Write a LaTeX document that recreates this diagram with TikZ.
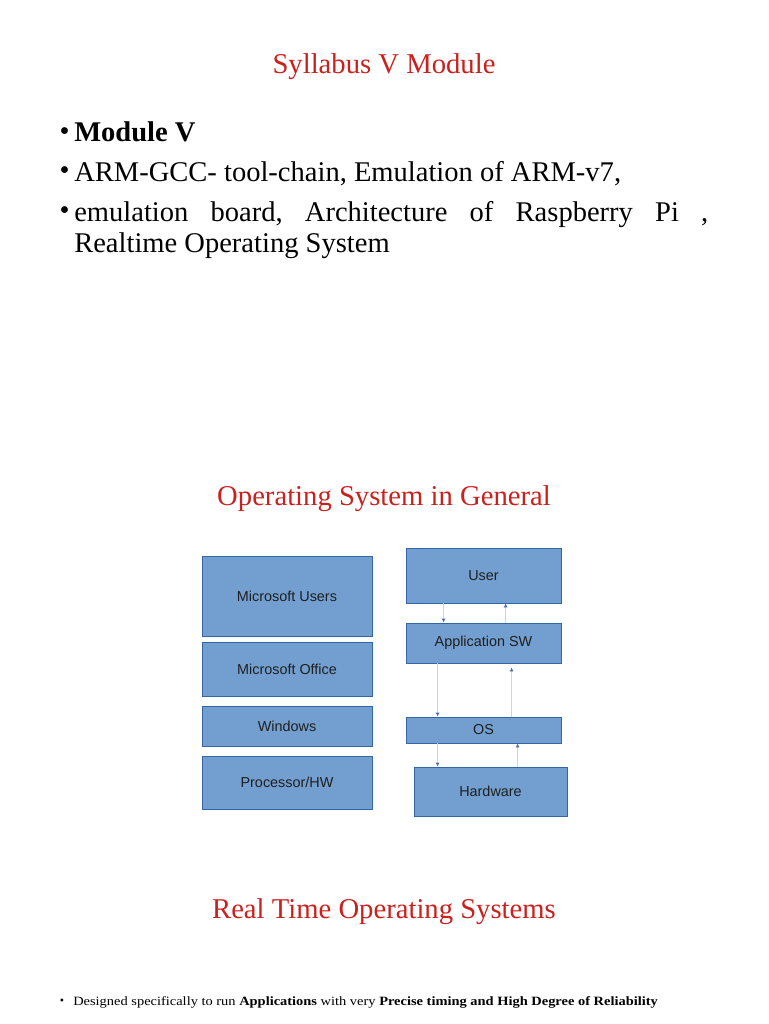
\documentclass[tikz,border=0pt]{standalone}
\usepackage{fontspec}
\setmainfont{Liberation Serif}
\newfontfamily\boxfont{Liberation Sans}
\usepackage{tikz}
\usetikzlibrary{positioning, arrows.meta}
\definecolor{titlered}{HTML}{C9211E}
\definecolor{boxfill}{HTML}{729FCF}
\definecolor{boxline}{HTML}{3465A4}
\definecolor{linkline}{HTML}{C8D6E6}
\definecolor{tipblue}{HTML}{4A72B0}
\frenchspacing
\tikzset{
  layer/.style={draw=boxline, fill=boxfill, line width=0.6pt, inner sep=0pt,
    font=\boxfont\fontsize{10.8}{13}\selectfont, text=black!88},
  title/.style={text=titlered, font=\fontsize{21.5}{25}\selectfont},
  item/.style={anchor=base west, inner sep=0pt, font=\fontsize{21.4}{25}\selectfont},
  dot/.style={anchor=base east, inner sep=0pt, font=\fontsize{21.4}{25}\selectfont},
  link/.style={draw=linkline, line width=0.6pt, -{Latex[length=3pt,width=3pt,color=tipblue]}}
}
\begin{document}
\begin{tikzpicture}[x=0.75pt, y=-0.75pt]
  \useasboundingbox (0,0) rectangle (768,1024);
  \fill[white] (0,0) rectangle (768,1024);

  % slide 1
  \node[title] (syl) at (384,67) {Syllabus V Module};
  \node[item] (it1) at (74,142) {\textbf{Module V}};
  \node[item] (it2) at (74,181) {ARM-GCC- tool-chain, Emulation of ARM-v7,};
  \node[item] (it3) at (74,221) {\makebox[475.5pt][s]{emulation board, Architecture of Raspberry Pi ,}};
  \node[item] (it4) at (74,252) {Realtime Operating System};
  \node[dot] at ([xshift=-3pt,yshift=1.2pt]it1.base west) {•};
  \node[dot] at ([xshift=-3pt,yshift=1.2pt]it2.base west) {•};
  \node[dot] at ([xshift=-3pt,yshift=1.2pt]it3.base west) {•};

  % slide 2
  \node[title] (osg) at (384,499) {Operating System in General};

  \node[layer, minimum width=127.5pt, minimum height=60pt] (musers) at (287,596) {Microsoft Users};
  \node[layer, minimum width=127.5pt, minimum height=40.5pt] (moffice) at (287,669) {Microsoft Office};
  \node[layer, minimum width=127.5pt, minimum height=30pt] (windows) at (287,726) {Windows};
  \node[layer, minimum width=127.5pt, minimum height=39.75pt] (prochw) at (287,782.5) {Processor/HW};

  \node[layer, minimum width=116.25pt, minimum height=41.25pt] (user) at (483.5,575.5) {User};
  \node[layer, minimum width=116.25pt, minimum height=30pt] (appsw) at (483.5,643) {Application SW};
  \node[layer, minimum width=116.25pt, minimum height=19.5pt] (os) at (483.5,730) {OS};
  \node[layer, minimum width=114.75pt, minimum height=36.75pt] (hw) at (490.5,791.5) {Hardware};

  \draw[link] ([xshift=28.5pt]user.south west) -- ([xshift=28.5pt]appsw.north west);
  \draw[link] ([xshift=75pt]appsw.north west) -- ([xshift=75pt]user.south west);
  \draw[link] ([xshift=24pt]appsw.south west) -- ([xshift=24pt]os.north west);
  \draw[link, shorten >=3pt] ([xshift=79.5pt]os.north west) -- ([xshift=79.5pt]appsw.south west);
  \draw[link] ([xshift=24pt]os.south west) -- ([xshift=18pt]hw.north west);
  \draw[link] ([xshift=78pt]hw.north west) -- ([xshift=84pt]os.south west);

  % slide 3
  \node[title] (rtos) at (384,912) {Real Time Operating Systems};
  \node[anchor=west, inner sep=0pt, font=\fontsize{9.5}{11}\selectfont] (rt1) at (73,1002)
    {\scalebox{1.14}[1]{Designed specifically to run \textbf{Applications} with very \textbf{Precise timing and High Degree of Reliability}}};
  \node[anchor=east, inner sep=0pt, font=\fontsize{9}{10}\selectfont] at ([xshift=-6.5pt]rt1.west) {•};
\end{tikzpicture}
\end{document}
